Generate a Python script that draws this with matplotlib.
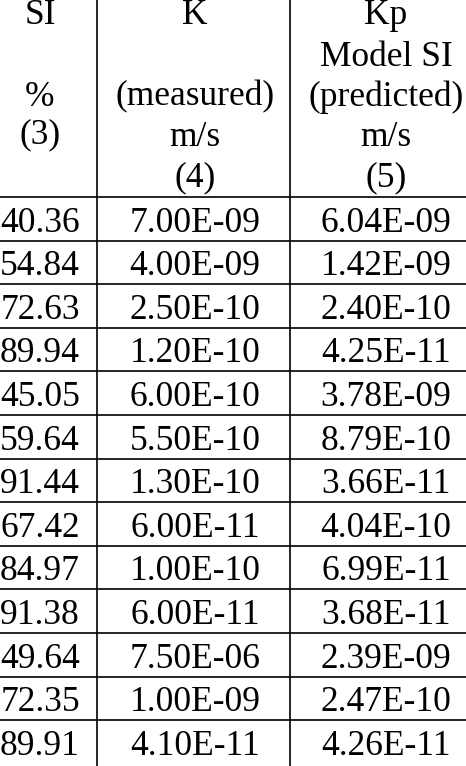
import matplotlib.pyplot as plt

si = ["40.36", "54.84", "72.63", "89.94", "45.05", "59.64", "91.44",
      "67.42", "84.97", "91.38", "49.64", "72.35", "89.91"]
k_measured = ["7.00E-09", "4.00E-09", "2.50E-10", "1.20E-10", "6.00E-10", "5.50E-10", "1.30E-10",
              "6.00E-11", "1.00E-10", "6.00E-11", "7.50E-06", "1.00E-09", "4.10E-11"]
kp_predicted = ["6.04E-09", "1.42E-09", "2.40E-10", "4.25E-11", "3.78E-09", "8.79E-10", "3.66E-11",
                "4.04E-10", "6.99E-11", "3.68E-11", "2.39E-09", "2.47E-10", "4.26E-11"]
headers = [
    [("SI", 15), ("%", 97), ("(3)", 135)],
    [("K", 15), ("(measured)", 97), ("m/s", 137), ("(4)", 178)],
    [("Kp", 15), ("Model SI", 57), ("(predicted)", 97), ("m/s", 137), ("(5)", 178)],
]

plt.rcParams['font.family'] = ['Liberation Serif', 'DejaVu Serif']
fig = plt.figure(figsize=(4.66, 7.66), dpi=100)
ax = fig.add_axes([0, 0, 1, 1])
ax.set_xlim(0, 466)
ax.set_ylim(766, 0)
ax.axis('off')

col_x = [40, 195, 386]
fs = 25.5
for cx, lines in zip(col_x, headers):
    for txt, y in lines:
        ax.text(cx, y, txt, ha='center', va='center', fontsize=fs)

top = 197
row_h = 43.6
for i, row in enumerate(zip(si, k_measured, kp_predicted)):
    yc = top + row_h * (i + 0.6)
    for cx, txt in zip(col_x, row):
        ax.text(cx, yc, txt, ha='center', va='center', fontsize=fs)
    ax.axhline(top + row_h * i, color='black', lw=1.2)

for x in [97, 290]:
    ax.axvline(x, color='black', lw=1.2)

fig.savefig("out.png", dpi=100)
